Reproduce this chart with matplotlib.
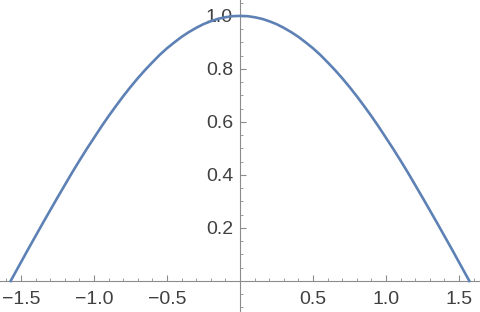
import matplotlib.pyplot as plt
from matplotlib.ticker import MultipleLocator

# values
xs = [-1.571, -1.55, -1.5, -1.45, -1.4, -1.35, -1.3, -1.25, -1.2, -1.15, -1.1,
      -1.05, -1.0, -0.95, -0.9, -0.85, -0.8, -0.75, -0.7, -0.65, -0.6, -0.55,
      -0.5, -0.45, -0.4, -0.35, -0.3, -0.25, -0.2, -0.15, -0.1, -0.05, 0.0,
      0.05, 0.1, 0.15, 0.2, 0.25, 0.3, 0.35, 0.4, 0.45, 0.5, 0.55, 0.6, 0.65,
      0.7, 0.75, 0.8, 0.85, 0.9, 0.95, 1.0, 1.05, 1.1, 1.15, 1.2, 1.25, 1.3,
      1.35, 1.4, 1.45, 1.5, 1.55, 1.571]
ys = [0.0, 0.021, 0.071, 0.121, 0.170, 0.219, 0.267, 0.315, 0.362, 0.409, 0.454,
      0.498, 0.540, 0.582, 0.622, 0.660, 0.697, 0.732, 0.765, 0.796, 0.825, 0.853,
      0.878, 0.900, 0.921, 0.939, 0.955, 0.969, 0.980, 0.989, 0.995, 0.999, 1.0,
      0.999, 0.995, 0.989, 0.980, 0.969, 0.955, 0.939, 0.921, 0.900, 0.878, 0.853,
      0.825, 0.796, 0.765, 0.732, 0.697, 0.660, 0.622, 0.582, 0.540, 0.498, 0.454,
      0.409, 0.362, 0.315, 0.267, 0.219, 0.170, 0.121, 0.071, 0.021, 0.0]

xticks = [-1.5, -1.0, -0.5, 0.5, 1.0, 1.5]
yticks = [0.2, 0.4, 0.6, 0.8, 1.0]

plt.rcParams['font.family'] = ['Liberation Sans', 'DejaVu Sans']

fig = plt.figure(figsize=(4.8, 3.12), dpi=100)
ax = fig.add_axes([0, 0, 1, 1])
ax.patch.set_visible(False)

ax.plot(xs, ys, color='#5E81B5', linewidth=1.9, zorder=3)

ax.set_xlim(-1.644, 1.644)
ax.set_ylim(-0.117, 1.06)

for side in ['top', 'right']:
    ax.spines[side].set_visible(False)
ax.spines['bottom'].set_position(('data', 0))
ax.spines['left'].set_position(('data', 0))
for side in ['bottom', 'left']:
    ax.spines[side].set_color('#8c8c8c')
    ax.spines[side].set_linewidth(0.8)

ax.set_xticks(xticks)
ax.set_yticks(yticks)
ax.set_xticklabels([f'{v:.1f}'.replace('-', '\u2212') for v in xticks])
ax.set_yticklabels([f'{v:.1f}' for v in yticks])
ax.xaxis.set_minor_locator(MultipleLocator(0.1))
ax.yaxis.set_minor_locator(MultipleLocator(0.05))

ax.tick_params(which='major', direction='in', length=4, width=0.8, color='#8c8c8c',
               labelsize=14, labelcolor='#404040', pad=7)
ax.tick_params(which='minor', direction='in', length=2, width=0.6, color='#8c8c8c')
ax.tick_params(axis='y', pad=5)

fig.savefig('out.png', dpi=100)
